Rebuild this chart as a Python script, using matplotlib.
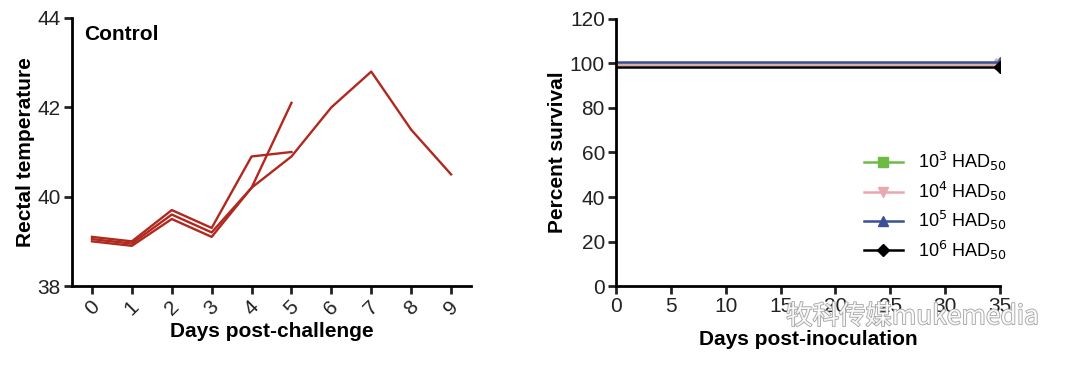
import matplotlib.pyplot as plt
import matplotlib.patheffects as pe

plt.rcParams['font.family'] = ['Liberation Sans', 'DejaVu Sans']

# rectal temperature, control animals
dias_a = [0, 1, 2, 3, 4, 5]
temp_a = [39.1, 39.0, 39.7, 39.3, 40.9, 41.0]
dias_b = [0, 1, 2, 3, 4, 5]
temp_b = [39.0, 38.9, 39.5, 39.1, 40.2, 42.1]
dias_c = [0, 1, 2, 3, 4, 5, 6, 7, 8, 9]
temp_c = [39.05, 38.95, 39.6, 39.2, 40.2, 40.9, 42.0, 42.8, 41.5, 40.5]

# survival curves
dias_sup = [0, 35]
sup_1e3 = [99.6, 99.6]
sup_1e4 = [99.6, 99.6]
sup_1e5 = [100.6, 100.6]
sup_1e6 = [98.4, 98.4]
etiquetas = [r'10$^3$ HAD$_{50}$', r'10$^4$ HAD$_{50}$',
             r'10$^5$ HAD$_{50}$', r'10$^6$ HAD$_{50}$']

fig = plt.figure(figsize=(10.8, 3.65), dpi=100)
ax1 = fig.add_axes([0.0667, 0.2164, 0.3694, 0.7343])
ax2 = fig.add_axes([0.5704, 0.2164, 0.3556, 0.7316])

rojo = '#b0281e'
for d, t in [(dias_a, temp_a), (dias_b, temp_b), (dias_c, temp_c)]:
    ax1.plot(d, t, color=rojo, lw=1.7)

ax1.set_xlim(-0.5, 9.5)
ax1.set_ylim(38, 44)
ax1.set_yticks([38, 40, 42, 44])
ax1.set_xticks(range(10))
ax1.set_xticklabels([str(i) for i in range(10)], rotation=45, ha='center')
ax1.set_ylabel('Rectal temperature', fontsize=15, fontweight='bold', labelpad=2)
ax1.set_xlabel('Days post-challenge', fontsize=15, fontweight='bold', labelpad=2)
ax1.text(0.03, 0.975, 'Control', transform=ax1.transAxes, fontsize=15,
         fontweight='bold', va='top', ha='left')

ax2.plot(dias_sup, sup_1e3, color='#6dbb45', lw=1.8, marker='s', markevery=[1], ms=7, label=etiquetas[0])
ax2.plot(dias_sup, sup_1e4, color='#e8a8b0', lw=1.8, marker='v', markevery=[1], ms=7, label=etiquetas[1])
ax2.plot(dias_sup, sup_1e5, color='#3a4f95', lw=1.8, marker='^', markevery=[1], ms=7, label=etiquetas[2])
ax2.plot(dias_sup, sup_1e6, color='black', lw=1.8, marker='D', markevery=[1], ms=6, label=etiquetas[3])
ax2.set_xlim(0, 35)
ax2.set_ylim(0, 120)
ax2.set_xticks(range(0, 36, 5))
ax2.set_yticks(range(0, 121, 20))
ax2.set_ylabel('Percent survival', fontsize=15, fontweight='bold', labelpad=2)
ax2.set_xlabel('Days post-inoculation', fontsize=15, fontweight='bold', labelpad=10)
ax2.legend(loc='lower right', bbox_to_anchor=(1.06, 0.03), frameon=False,
           fontsize=13, handlelength=2.2, labelspacing=0.35)

for ax in (ax1, ax2):
    ax.spines['top'].set_visible(False)
    ax.spines['right'].set_visible(False)
    ax.spines['left'].set_linewidth(2)
    ax.spines['bottom'].set_linewidth(2)
    ax.tick_params(width=2, length=6, labelsize=15, pad=2, colors='#222222')

# marca de agua
fig.text(0.728, 0.112, '牧科传媒mukemedia', fontsize=19, color='white',
         family=['Noto Sans CJK SC', 'DejaVu Sans'], alpha=0.9,
         path_effects=[pe.withStroke(linewidth=1.2, foreground='#999999')])

plt.savefig('out.png', dpi=100)
